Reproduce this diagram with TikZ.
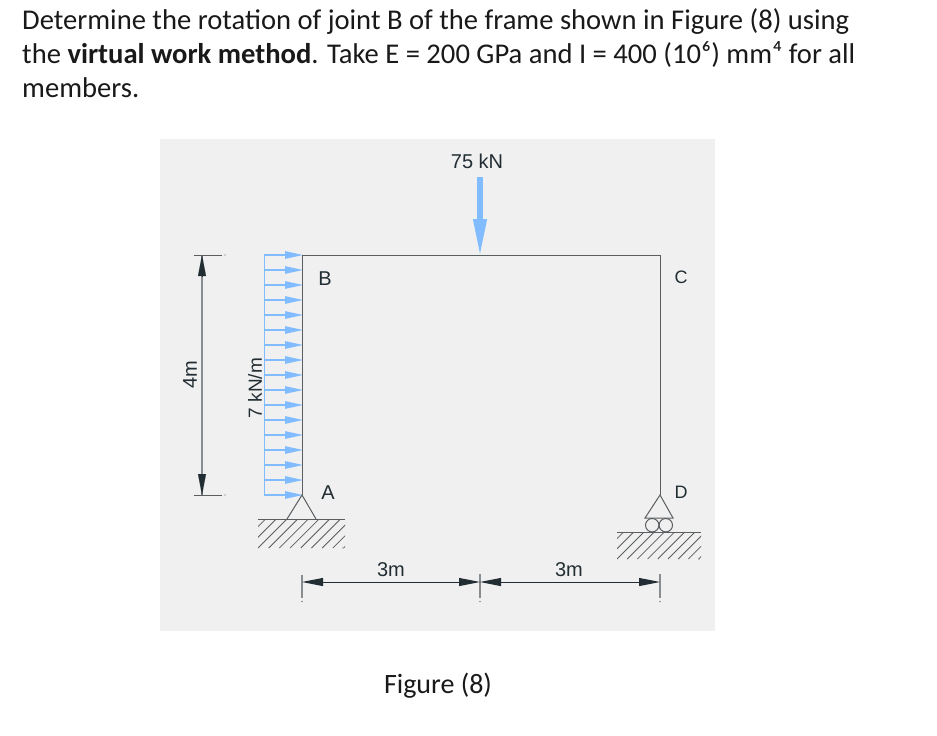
\documentclass[tikz,border=0pt]{standalone}
\usepackage{fontspec}
\setmainfont{Carlito}
\newfontfamily\lab{Liberation Sans}
\usetikzlibrary{arrows.meta}
\definecolor{panel}{HTML}{F0F0F0}
\definecolor{loadblue}{HTML}{80BCFF}
\definecolor{member}{HTML}{5A5E60}
\definecolor{inkdark}{HTML}{222D33}
\definecolor{dimgrey}{HTML}{8A8D8F}
\tikzset{
  para/.style={anchor=base west,inner sep=0pt,font=\fontsize{28.6}{32}\selectfont,text=black!90},
  lbl/.style={inner sep=0pt,font=\lab\fontsize{20}{22}\selectfont,text=inkdark},
  smalllbl/.style={inner sep=0pt,font=\lab\fontsize{18}{20}\selectfont,text=inkdark},
  frameline/.style={draw=member,line width=1pt},
  supportline/.style={draw=member,line width=1pt},
  hatchline/.style={draw=member,line width=0.8pt},
  udl/.style={draw=loadblue,line width=2.6pt,-{Triangle[length=19pt,width=7pt,fill=loadblue]}},
  dimhead/.style={-{Triangle[length=21pt,width=8pt,fill=inkdark]}},
  tickline/.style={draw=dimgrey,line width=1.2pt},
}
\begin{document}
\begin{tikzpicture}[x=1pt,y=-1pt]
\useasboundingbox (0,0) rectangle (937,736);
\fill[panel] (160,139) rectangle (715,631);
% text
\node[para] (t1) at (22,29) {Determine the rotation of joint B of the frame shown in Figure (8) using};
\node[para] (t2) at (22,63) {the \textbf{virtual work method}. Take E = 200 GPa and I = 400 (10⁶) mm⁴ for all};
\node[para] (t3) at (22,97) {members.};
\node[para,anchor=base,font=\fontsize{28}{32}\selectfont] (fig) at (438,693) {Figure (8)};
% frame points
\coordinate (A) at (302,495);
\coordinate (B) at (302,255);
\coordinate (C) at (660,255);
\coordinate (D) at (660,495);
\coordinate (P) at (480,257);
\coordinate (Ptop) at (480,177);
% distributed load
\draw[draw=loadblue,line width=1.6pt] (264.5,255) -- (264.5,495);
\foreach \k in {0,...,16}{
  \coordinate (ls\k) at (264,255+15*\k);
  \coordinate (le\k) at (304,255+15*\k);
  \draw[udl] (ls\k) -- (le\k);
}
% frame
\draw[frameline] (A) -- (B) -- (C) -- (D);
% point load
\draw[draw=loadblue,line width=5.5pt,-{Triangle[length=38pt,width=12.5pt,fill=loadblue]}] (Ptop) -- (P);
% support A
\coordinate (Al) at (287,519);
\coordinate (Ar) at (316,519);
\draw[supportline] (Al) -- (A) -- (Ar);
\draw[supportline] (258,519) -- (345,519);
\begin{scope}
\clip (258,519) rectangle (345,548.5);
\foreach \k in {-3,...,9}{
  \draw[hatchline] (258+10.7*\k,548) -- (258+10.7*\k+30,518);
}
\end{scope}
\fill[member] (343,548) circle (0.7);
% support D
\coordinate (Dl) at (645,518);
\coordinate (Dr) at (673,518);
\draw[supportline] (Dl) -- (D) -- (Dr) -- cycle;
\draw[supportline] (652.2,525.2) circle (6.7);
\draw[supportline] (665.8,525.2) circle (6.7);
\draw[supportline] (617,532) -- (701,532);
\begin{scope}
\clip (617,532) rectangle (701,559.5);
\foreach \k in {-3,...,9}{
  \draw[hatchline] (617+10.2*\k,559) -- (617+10.2*\k+30,529);
}
\end{scope}
\fill[member] (699,559) circle (0.7);
% left dimension
\coordinate (dT) at (202,255);
\coordinate (dB) at (202,495);
\draw[dimgrey,line width=1.2pt] (dT) -- (dB);
\draw[inkdark,dimhead,line width=0.1pt] (202,276) -- (dT);
\draw[inkdark,dimhead,line width=0.1pt] (202,474) -- (dB);
\draw[member,line width=1pt] (194,255) -- (222,255);
\draw[member,line width=1pt] (194,495) -- (222,495);
\fill[member] (225,255) circle (0.6);
\fill[member] (225,495) circle (0.6);
% bottom dimension
\coordinate (d1) at (302,582);
\coordinate (d2) at (480,582);
\coordinate (d3) at (660,582);
\draw[tickline] (302,575) -- (302,598);
\draw[tickline] (480,574) -- (480,598);
\draw[tickline] (660,574) -- (660,598);
\foreach \x in {302,480,660}{\fill[dimgrey] (\x,601.5) circle (0.8);}
\draw[inkdark,line width=1pt,{Triangle[length=21pt,width=8pt,fill=inkdark]}-{Triangle[length=21pt,width=8pt,fill=inkdark]}] (d1) -- (d2);
\draw[inkdark,line width=1pt,{Triangle[length=21pt,width=8pt,fill=inkdark]}-{Triangle[length=21pt,width=8pt,fill=inkdark]}] (d2) -- (d3);
% labels
\node[lbl] (l75) at (477,161) {75 kN};
\node[lbl] (lB) at (325,279) {B};
\node[smalllbl] (lC) at (681,277) {C};
\node[lbl] (lA) at (328,493) {A};
\node[smalllbl] (lD) at (681,492) {D};
\node[lbl,rotate=90] (l4) at (190,375) {4m};
\node[lbl,rotate=90,font=\lab\fontsize{19}{22}\selectfont] (l7) at (255,388) {7 kN/m};
\node[lbl] (l3a) at (391,570) {3m};
\node[lbl] (l3b) at (569,570) {3m};
\end{tikzpicture}
\end{document}
